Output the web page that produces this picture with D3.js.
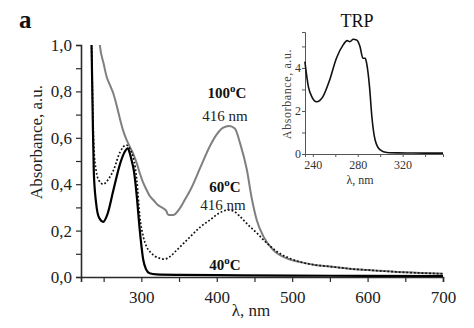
<!DOCTYPE html>
<html>
<head>
<meta charset="utf-8">
<script src="https://cdn.jsdelivr.net/npm/d3@7"></script>
<style>
  html, body { margin: 0; padding: 0; background: #fff; }
  svg { display: block; font-family: "Liberation Serif", "Times New Roman", serif; }
</style>
</head>
<body>
<svg id="chart" width="474" height="328"></svg>
<script>
// Absorption spectra after heating at 40, 60 and 100 °C
const wl40  = [231, 234, 235.5, 237, 240, 244, 249.5, 255, 263, 272, 278, 282, 285, 287, 290, 292, 294, 298, 302.6, 306, 311, 320, 350, 400, 500, 600, 700];
const abs40 = [1.3, 1.0, 0.7, 0.45, 0.32, 0.255, 0.238, 0.27, 0.375, 0.49, 0.54, 0.555, 0.53, 0.504, 0.46, 0.41, 0.346, 0.2, 0.073, 0.035, 0.016, 0.011, 0.009, 0.008, 0.006, 0.005, 0.004];

const wl60  = [232, 234, 235.5, 237, 240, 244, 249.5, 256, 263, 272, 280, 285, 289, 292, 294, 298, 302.6, 307, 311.5, 318, 325, 330, 338, 347, 356, 365, 378, 391, 403, 415, 423, 431, 444, 453, 462, 480, 497, 514, 530, 550, 575, 600, 650, 700];
const abs60 = [1.3, 1.0, 0.75, 0.56, 0.46, 0.415, 0.40, 0.42, 0.46, 0.54, 0.569, 0.55, 0.518, 0.47, 0.418, 0.26, 0.174, 0.13, 0.109, 0.09, 0.08, 0.077, 0.088, 0.116, 0.145, 0.174, 0.215, 0.246, 0.275, 0.289, 0.283, 0.26, 0.217, 0.19, 0.16, 0.109, 0.08, 0.062, 0.052, 0.045, 0.036, 0.03, 0.02, 0.014];

const wl100  = [244, 245, 250, 254, 258, 263, 268, 272, 276, 280.6, 285, 289, 294, 298, 302, 307, 311, 316, 322, 329, 333, 336, 342, 351, 358, 365, 378, 391, 400, 408, 416.6, 424, 431, 440, 446, 453, 462, 475, 493, 514, 530, 550, 575, 600, 650, 700];
const abs100 = [1.05, 1.0, 0.92, 0.863, 0.83, 0.79, 0.73, 0.677, 0.63, 0.59, 0.56, 0.533, 0.49, 0.447, 0.41, 0.375, 0.35, 0.332, 0.31, 0.296, 0.285, 0.267, 0.267, 0.296, 0.335, 0.375, 0.47, 0.565, 0.615, 0.643, 0.651, 0.64, 0.576, 0.461, 0.346, 0.246, 0.174, 0.116, 0.08, 0.062, 0.052, 0.045, 0.036, 0.03, 0.02, 0.014];

// Tryptophan reference spectrum (inset)
const wlTrp  = [232.9, 236, 239, 243.3, 249, 255, 261, 267, 270.5, 273, 276, 279, 282, 284.6, 286.7, 288, 290.5, 292.6, 295.5, 300, 306, 316, 326, 340, 356];
const absTrp = [4.29, 3.13, 2.67, 2.43, 2.67, 3.44, 4.45, 5.07, 5.27, 5.22, 5.33, 5.3, 5.0, 4.45, 4.45, 4.2, 3.13, 1.73, 0.65, 0.19, 0.07, 0.05, 0.045, 0.04, 0.04];

const xTicksMain = [300, 400, 500, 600, 700];
const yTicksMain = [0, 0.2, 0.4, 0.6, 0.8, 1.0];
const xTicksInset = [240, 280, 320];
const yTicksInset = [0, 2, 4];

const svg = d3.select("#chart");
const axisColor = "#2a2a2a";
const fmtComma = d => d3.format(".1f")(d).replace(".", ",");

// ---------- main panel ----------
const x = d3.scaleLinear().domain([220, 700]).range([81, 443]);
const y = d3.scaleLinear().domain([0, 1.0]).range([277, 45]);

svg.append("defs").append("clipPath").attr("id", "mainClip")
  .append("rect").attr("x", 81).attr("y", 45).attr("width", 362).attr("height", 232);

// minor + major ticks
const xAxis = d3.axisBottom(x).tickValues(d3.range(250, 701, 50)).tickSize(5)
  .tickFormat(d => xTicksMain.includes(d) ? d : "");
const gx = svg.append("g").attr("transform", `translate(0,${y(0)})`).call(xAxis);
const yAxis = d3.axisLeft(y).tickValues(d3.range(0, 1.0001, 0.1)).tickSize(5)
  .tickFormat(d => yTicksMain.some(t => Math.abs(t - d) < 1e-6) ? fmtComma(d) : "");
const gy = svg.append("g").attr("transform", `translate(${x(220)},0)`).call(yAxis);

[gx, gy].forEach(g => {
  g.select(".domain").attr("stroke", axisColor).attr("stroke-width", 1.6);
  g.selectAll(".tick line").attr("stroke", axisColor).attr("stroke-width", 1.2);
  g.selectAll("text").attr("fill", "#222").attr("font-size", 17)
    .attr("font-family", "Liberation Serif, serif");
});
gx.selectAll("text").attr("dy", "1.05em");
gy.selectAll("text").attr("x", -9);

const line = d3.line().x(d => x(d[0])).y(d => y(d[1])).curve(d3.curveMonotoneX);
const plot = svg.append("g").attr("clip-path", "url(#mainClip)");

plot.append("path").datum(d3.zip(wl100, abs100)).attr("d", line)
  .attr("fill", "none").attr("stroke", "#7f7f7f").attr("stroke-width", 2);
plot.append("path").datum(d3.zip(wl60, abs60)).attr("d", line)
  .attr("fill", "none").attr("stroke", "#111").attr("stroke-width", 1.7)
  .attr("stroke-dasharray", "1.8,2");
plot.append("path").datum(d3.zip(wl40, abs40)).attr("d", line)
  .attr("fill", "none").attr("stroke", "#000").attr("stroke-width", 2.2);

// axis titles
svg.append("text").attr("x", 251).attr("y", 316).attr("text-anchor", "middle")
  .attr("font-size", 17).attr("fill", "#222").text("λ, nm");
svg.append("text").attr("transform", "translate(42,142) rotate(-90)")
  .attr("text-anchor", "middle").attr("font-size", 17).attr("fill", "#222")
  .text("Absorbance, a.u.");
svg.append("text").attr("x", 19).attr("y", 28).attr("font-size", 25)
  .attr("font-weight", "bold").attr("fill", "#111").text("a");

// temperature annotations
function tempLabel(cx, by, t) {
  const tx = svg.append("text").attr("x", cx).attr("y", by).attr("text-anchor", "middle")
    .attr("font-size", 15).attr("font-weight", "bold").attr("fill", "#111");
  tx.append("tspan").text(t);
  tx.append("tspan").attr("font-size", 11).attr("dy", -6).text("o");
  tx.append("tspan").attr("dy", 6).text("C");
}
function peakLabel(cx, by) {
  svg.append("text").attr("x", cx).attr("y", by).attr("text-anchor", "middle")
    .attr("font-size", 15).attr("fill", "#222").text("416 nm");
}
tempLabel(227, 98, "100");
peakLabel(225, 121);
tempLabel(225, 192, "60");
peakLabel(223, 210);
tempLabel(225, 270, "40");

// ---------- inset: tryptophan ----------
const xi = d3.scaleLinear().domain([233, 356]).range([305, 443]);
const yi = d3.scaleLinear().domain([0, 5.67]).range([154, 32]);

const xiAxis = d3.axisBottom(xi).tickValues([240, 260, 280, 300, 320, 340]).tickSize(3)
  .tickFormat(d => xTicksInset.includes(d) ? d : "");
const gxi = svg.append("g").attr("transform", `translate(0,${yi(0)})`).call(xiAxis);
const yiAxis = d3.axisLeft(yi).tickValues([0, 1, 2, 3, 4, 5]).tickSize(3)
  .tickFormat(d => yTicksInset.includes(d) ? d : "");
const gyi = svg.append("g").attr("transform", `translate(${xi(233)},0)`).call(yiAxis);
[gxi, gyi].forEach(g => {
  g.select(".domain").attr("stroke", "#555").attr("stroke-width", 1);
  g.selectAll(".tick line").attr("stroke", "#555");
  g.selectAll("text").attr("fill", "#333").attr("font-size", 12)
    .attr("font-family", "Liberation Serif, serif");
});
gyi.selectAll("text").attr("x", -4);

const lineI = d3.line().x(d => xi(d[0])).y(d => yi(d[1])).curve(d3.curveMonotoneX);
svg.append("path").datum(d3.zip(wlTrp, absTrp)).attr("d", lineI)
  .attr("fill", "none").attr("stroke", "#111").attr("stroke-width", 1.6);

svg.append("text").attr("x", 357).attr("y", 27).attr("text-anchor", "middle")
  .attr("font-size", 18).attr("fill", "#111").text("TRP");
svg.append("text").attr("x", 360).attr("y", 184).attr("text-anchor", "middle")
  .attr("font-size", 12).attr("fill", "#333").text("λ, nm");
svg.append("text").attr("transform", "translate(291,94) rotate(-90)")
  .attr("text-anchor", "middle").attr("font-size", 12).attr("letter-spacing", 0.6)
  .attr("fill", "#444").text("Absorbance, a.u.");
</script>
</body>
</html>
